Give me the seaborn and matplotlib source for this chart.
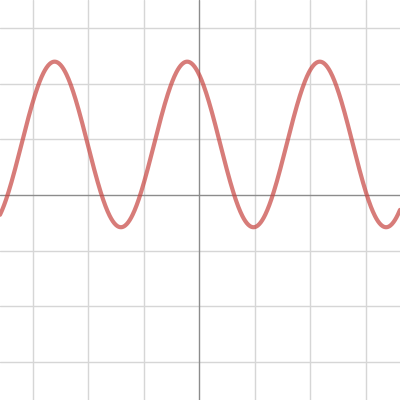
import numpy as np
import matplotlib
matplotlib.use("Agg")
import matplotlib.pyplot as plt
import seaborn as sns

# curve parameters
amplitude = 1.49
offset = 0.91
period = 2.39
peak_x = -0.216
x_range = [-3.59, 3.62]
y_range = [-3.69, 3.51]
grid_ticks = [-3, -2, -1, 0, 1, 2, 3]

x = np.linspace(x_range[0], x_range[1], 800)
y = offset + amplitude * np.cos(2 * np.pi * (x - peak_x) / period)

sns.set_style("white")
fig = plt.figure(figsize=(4, 4), dpi=100)
ax = fig.add_axes([0, 0, 1, 1])
for t in grid_ticks:
    if t != 0:
        ax.axvline(t, color="#d6d6d6", lw=1, zorder=0)
        ax.axhline(t, color="#d6d6d6", lw=1, zorder=0)
ax.axvline(0, color="#8c8c8c", lw=1, zorder=1)
ax.axhline(0, color="#8c8c8c", lw=1, zorder=1)
sns.lineplot(x=x, y=y, ax=ax, color="#c74440", alpha=0.7, lw=3, sort=False)
ax.set_xlim(*x_range)
ax.set_ylim(*y_range)
ax.set_xticks([]); ax.set_yticks([])
for s in ax.spines.values():
    s.set_visible(False)
fig.savefig("out.png", dpi=100)
